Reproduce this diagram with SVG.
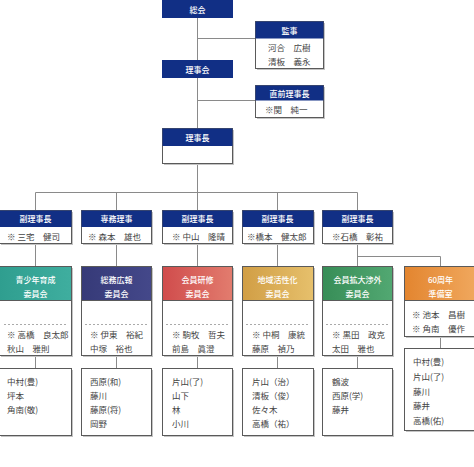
<svg xmlns="http://www.w3.org/2000/svg" width="474" height="467" viewBox="0 0 474 467">
<style>
.bg{fill:#ffffff}
.ln{stroke:#8a8a8a;stroke-width:1;fill:none}
.box{fill:#ffffff;stroke:#5a5a5a;stroke-width:1}
.sh{fill:#c4c4c4}
.nv{fill:#112f85}
.hd{font-family:"Noto Sans CJK JP","Noto Sans",sans-serif;font-size:8px;fill:#ffffff;text-anchor:middle;dominant-baseline:central;font-weight:500}
.nm{font-family:"Noto Sans CJK JP","Noto Sans",sans-serif;font-size:8.5px;fill:#444444;dominant-baseline:central}
.dash{stroke:#aaaaaa;stroke-width:1;stroke-dasharray:2,2}
</style>
<defs>
<linearGradient id="gTeal" x1="0" y1="0" x2="1" y2="0"><stop offset="0" stop-color="#2f9e8f"/><stop offset="1" stop-color="#3fae9f"/></linearGradient>
<linearGradient id="gInd" x1="0" y1="0" x2="1" y2="0"><stop offset="0" stop-color="#363a78"/><stop offset="1" stop-color="#44488a"/></linearGradient>
<linearGradient id="gRed" x1="0" y1="0" x2="1" y2="0"><stop offset="0" stop-color="#d04c4c"/><stop offset="1" stop-color="#e27c6e"/></linearGradient>
<linearGradient id="gGold" x1="0" y1="0" x2="1" y2="0"><stop offset="0" stop-color="#d19e45"/><stop offset="1" stop-color="#e6c06c"/></linearGradient>
<linearGradient id="gGrn" x1="0" y1="0" x2="1" y2="0"><stop offset="0" stop-color="#378d57"/><stop offset="1" stop-color="#52a872"/></linearGradient>
<linearGradient id="gOrg" x1="0" y1="0" x2="1" y2="0"><stop offset="0" stop-color="#e3852f"/><stop offset="1" stop-color="#f0a85e"/></linearGradient>
</defs>
<rect class="bg" x="0" y="0" width="474" height="467"/>

<g id="connectors">
<line class="ln" x1="197.5" y1="17" x2="197.5" y2="192.5"/>
<line class="ln" x1="197.5" y1="38.5" x2="255.5" y2="38.5"/>
<line class="ln" x1="197.5" y1="100.5" x2="255.5" y2="100.5"/>
<line class="ln" x1="35.5" y1="192.5" x2="357.5" y2="192.5"/>
<line class="ln" x1="35.5" y1="192.5" x2="35.5" y2="369"/>
<line class="ln" x1="116.5" y1="192.5" x2="116.5" y2="369"/>
<line class="ln" x1="197.5" y1="192.5" x2="197.5" y2="369"/>
<line class="ln" x1="277.5" y1="192.5" x2="277.5" y2="369"/>
<line class="ln" x1="357.5" y1="192.5" x2="357.5" y2="369"/>
<line class="ln" x1="357.5" y1="256.5" x2="440.5" y2="256.5"/>
<line class="ln" x1="440.5" y1="256.5" x2="440.5" y2="349"/>
</g>

<g id="soukai">
<rect class="nv" x="162" y="-1" width="71" height="19"/>
<text class="hd" x="197.5" y="9">総会</text>
</g>

<g id="kanji">
<rect class="sh" x="257" y="23" width="68" height="47"/>
<rect class="box" x="255.5" y="21.5" width="68" height="47"/>
<rect class="nv" x="255.5" y="21.5" width="68" height="17"/>
<text class="hd" x="289.5" y="30">監事</text>
<text class="nm" x="268" y="47">河合　広樹</text>
<text class="nm" x="268" y="61">清板　義永</text>
</g>

<g id="rijikai">
<rect class="nv" x="162" y="60" width="71" height="18"/>
<text class="hd" x="197.5" y="69.5">理事会</text>
</g>

<g id="chokuzen">
<rect class="sh" x="257" y="87" width="68" height="32"/>
<rect class="box" x="255.5" y="85.5" width="68" height="32"/>
<rect class="nv" x="255.5" y="85.5" width="68" height="15"/>
<text class="hd" x="289.5" y="93.5">直前理事長</text>
<text class="nm" x="265" y="109">※関　純一</text>
</g>

<g id="rijicho">
<rect class="sh" x="164" y="130" width="70" height="35"/>
<rect class="box" x="162.5" y="128.5" width="70" height="35"/>
<rect class="nv" x="162.5" y="128.5" width="70" height="17.5"/>
<text class="hd" x="197.5" y="137.5">理事長</text>
</g>

<g id="fuku1">
<rect class="sh" x="1" y="212" width="72" height="33"/>
<rect class="box" x="-0.5" y="210.5" width="72" height="33"/>
<rect class="nv" x="-0.5" y="210.5" width="72" height="16.5"/>
<text class="hd" x="35.5" y="218.5">副理事長</text>
<text class="nm" x="7" y="235.5">※ 三宅　健司</text>
</g>
<g id="senmu">
<rect class="sh" x="83" y="212" width="70" height="33"/>
<rect class="box" x="81.5" y="210.5" width="70" height="33"/>
<rect class="nv" x="81.5" y="210.5" width="70" height="16.5"/>
<text class="hd" x="116.5" y="218.5">専務理事</text>
<text class="nm" x="88" y="235.5">※ 森本　雄也</text>
</g>
<g id="fuku2">
<rect class="sh" x="164" y="212" width="70" height="33"/>
<rect class="box" x="162.5" y="210.5" width="70" height="33"/>
<rect class="nv" x="162.5" y="210.5" width="70" height="16.5"/>
<text class="hd" x="197.5" y="218.5">副理事長</text>
<text class="nm" x="172" y="235.5">※ 中山　隆晴</text>
</g>
<g id="fuku3">
<rect class="sh" x="244" y="212" width="71" height="33"/>
<rect class="box" x="242.5" y="210.5" width="71" height="33"/>
<rect class="nv" x="242.5" y="210.5" width="71" height="16.5"/>
<text class="hd" x="277.5" y="218.5">副理事長</text>
<text class="nm" x="247" y="235.5">※橋本　健太郎</text>
</g>
<g id="fuku4">
<rect class="sh" x="324" y="212" width="70" height="33"/>
<rect class="box" x="322.5" y="210.5" width="70" height="33"/>
<rect class="nv" x="322.5" y="210.5" width="70" height="16.5"/>
<text class="hd" x="357.5" y="218.5">副理事長</text>
<text class="nm" x="332" y="235.5">※石橋　彰祐</text>
</g>

<g id="iinkai-seishonen">
<rect class="sh" x="1" y="268" width="72" height="89"/>
<rect class="box" x="-0.5" y="266.5" width="72" height="89"/>
<rect x="-0.5" y="266.5" width="72" height="34" fill="url(#gTeal)" stroke="#5a5a5a"/>
<text class="hd" x="35.5" y="279">青少年育成</text>
<text class="hd" x="35.5" y="293">委員会</text>
<line class="dash" x1="4" y1="324.5" x2="68" y2="324.5"/>
<text class="nm" x="7" y="334">※ 高橋　良太郎</text>
<text class="nm" x="7" y="348">秋山　雅則</text>
</g>
<g id="iinkai-somu">
<rect class="sh" x="83" y="268" width="70" height="89"/>
<rect class="box" x="81.5" y="266.5" width="70" height="89"/>
<rect x="81.5" y="266.5" width="70" height="34" fill="url(#gInd)" stroke="#5a5a5a"/>
<text class="hd" x="116.5" y="279">総務広報</text>
<text class="hd" x="116.5" y="293">委員会</text>
<line class="dash" x1="85" y1="324.5" x2="148" y2="324.5"/>
<text class="nm" x="90" y="334">※ 伊東　裕紀</text>
<text class="nm" x="90" y="348">中塚　裕也</text>
</g>
<g id="iinkai-kenshu">
<rect class="sh" x="164" y="268" width="70" height="89"/>
<rect class="box" x="162.5" y="266.5" width="70" height="89"/>
<rect x="162.5" y="266.5" width="70" height="34" fill="url(#gRed)" stroke="#5a5a5a"/>
<text class="hd" x="197.5" y="279">会員研修</text>
<text class="hd" x="197.5" y="293">委員会</text>
<line class="dash" x1="166" y1="324.5" x2="229" y2="324.5"/>
<text class="nm" x="172" y="334">※ 駒牧　哲夫</text>
<text class="nm" x="172" y="348">前島　眞澄</text>
</g>
<g id="iinkai-chiiki">
<rect class="sh" x="244" y="268" width="71" height="89"/>
<rect class="box" x="242.5" y="266.5" width="71" height="89"/>
<rect x="242.5" y="266.5" width="71" height="34" fill="url(#gGold)" stroke="#5a5a5a"/>
<text class="hd" x="277.5" y="279">地域活性化</text>
<text class="hd" x="277.5" y="293">委員会</text>
<line class="dash" x1="246" y1="324.5" x2="310" y2="324.5"/>
<text class="nm" x="252" y="334">※ 中桐　康統</text>
<text class="nm" x="252" y="348">藤原　禎乃</text>
</g>
<g id="iinkai-kakudai">
<rect class="sh" x="324" y="268" width="70" height="89"/>
<rect class="box" x="322.5" y="266.5" width="70" height="89"/>
<rect x="322.5" y="266.5" width="70" height="34" fill="url(#gGrn)" stroke="#5a5a5a"/>
<text class="hd" x="357.5" y="279">会員拡大渉外</text>
<text class="hd" x="357.5" y="293">委員会</text>
<line class="dash" x1="326" y1="324.5" x2="389" y2="324.5"/>
<text class="nm" x="332" y="334">※ 黒田　政克</text>
<text class="nm" x="332" y="348">太田　雅也</text>
</g>
<g id="junbishitsu">
<rect class="sh" x="406" y="268" width="72" height="70"/>
<rect class="box" x="404.5" y="266.5" width="72" height="70"/>
<rect x="404.5" y="266.5" width="72" height="34" fill="url(#gOrg)" stroke="#5a5a5a"/>
<text class="hd" x="440.5" y="279">60周年</text>
<text class="hd" x="440.5" y="293">準備室</text>
<text class="nm" x="412" y="313.5">※ 池本　昌樹</text>
<text class="nm" x="412" y="328">※ 角南　優作</text>
</g>

<g id="members-seishonen">
<rect class="sh" x="1" y="370" width="72" height="67"/>
<rect class="box" x="-0.5" y="368.5" width="72" height="67"/>
<text class="nm" x="7" y="381">中村(豊)</text>
<text class="nm" x="7" y="395">坪本</text>
<text class="nm" x="7" y="409">角南(敬)</text>
</g>
<g id="members-somu">
<rect class="sh" x="83" y="370" width="70" height="67"/>
<rect class="box" x="81.5" y="368.5" width="70" height="67"/>
<text class="nm" x="90" y="381">西原(和)</text>
<text class="nm" x="90" y="395">藤川</text>
<text class="nm" x="90" y="409">藤原(将)</text>
<text class="nm" x="90" y="423">岡野</text>
</g>
<g id="members-kenshu">
<rect class="sh" x="164" y="370" width="70" height="67"/>
<rect class="box" x="162.5" y="368.5" width="70" height="67"/>
<text class="nm" x="172" y="381">片山(了)</text>
<text class="nm" x="172" y="395">山下</text>
<text class="nm" x="172" y="409">林</text>
<text class="nm" x="172" y="423">小川</text>
</g>
<g id="members-chiiki">
<rect class="sh" x="244" y="370" width="71" height="67"/>
<rect class="box" x="242.5" y="368.5" width="71" height="67"/>
<text class="nm" x="252" y="381">片山（治）</text>
<text class="nm" x="252" y="395">清板（俊）</text>
<text class="nm" x="252" y="409">佐々木</text>
<text class="nm" x="252" y="423">高橋（祐）</text>
</g>
<g id="members-kakudai">
<rect class="sh" x="324" y="370" width="70" height="67"/>
<rect class="box" x="322.5" y="368.5" width="70" height="67"/>
<text class="nm" x="332" y="381">鶴波</text>
<text class="nm" x="332" y="395">西原(学)</text>
<text class="nm" x="332" y="409">藤井</text>
</g>
<g id="members-junbi">
<rect class="sh" x="406" y="350" width="72" height="82"/>
<rect class="box" x="404.5" y="348.5" width="72" height="82"/>
<text class="nm" x="413" y="361">中村(豊)</text>
<text class="nm" x="413" y="376">片山(了)</text>
<text class="nm" x="413" y="390.5">藤川</text>
<text class="nm" x="413" y="405">藤井</text>
<text class="nm" x="413" y="419.5">高橋(佑)</text>
</g>
</svg>
